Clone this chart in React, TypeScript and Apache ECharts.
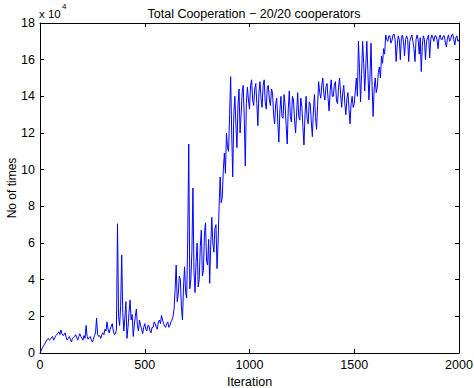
import React, { useEffect, useRef } from 'react';
import * as echarts from 'echarts';

const titleText = 'Total Cooperation \u2212 20/20 cooperators';
const xAxisName = 'Iteration';
const yAxisName = 'No of times';
const xTicks = [0, 500, 1000, 1500, 2000];
const yTicks = [0, 2, 4, 6, 8, 10, 12, 14, 16, 18];

// one reading every 5 iterations (0, 5, 10, ... 2000)
const iterationStep = 5;

// values in units of 10^4
const cooperation = [
  0, 0.12, 0.25, 0.35, 0.45, 0.55, 0.65, 0.75, 0.8, 0.7, 0.75, 0.85, 0.9, 0.7, 0.8, 0.95, 1.0, 1.1, 1.15, 1.0,
  1.25, 1.05, 0.95, 1.0, 1.1, 0.85, 0.7, 0.8, 0.9, 0.75, 0.6, 0.8, 0.85, 0.9, 1.0, 0.85, 0.7, 0.9, 1.05, 0.9,
  0.8, 0.7, 0.95, 0.8, 1.5, 0.9, 0.75, 0.85, 0.9, 0.7, 0.6, 0.75, 0.95, 1.1, 1.9, 1.0, 0.9, 0.95, 0.8, 1.0,
  1.1, 1.0, 1.3, 1.2, 1.7, 1.3, 1.1, 1.3, 1.45, 1.6, 1.2, 1.0, 1.05, 1.3, 7.05, 2.0, 1.5, 2.6, 5.35, 2.2,
  1.2, 1.9, 2.8, 0.8, 1.4, 2.2, 2.9, 1.8, 2.1, 0.9, 1.5, 2.0, 2.4, 1.5, 1.2, 1.8, 1.5, 1.3, 1.05, 1.4,
  1.6, 1.3, 1.2, 1.5, 1.5, 1.2, 1.1, 1.4, 1.4, 1.7, 1.6, 1.4, 1.3, 1.7, 1.8, 1.6, 2.05, 1.8, 1.6, 1.45,
  1.4, 1.6, 1.7, 1.4, 1.5, 1.7, 1.8, 2.0, 2.4, 3.5, 4.8, 2.8, 3.2, 4.2, 4.0, 2.5, 1.8, 3.6, 4.7, 3.3,
  3.0, 6.0, 11.4, 3.5, 4.0, 5.5, 9.0, 4.5, 3.3, 5.0, 6.0, 3.6, 4.0, 5.8, 6.7, 4.2, 4.5, 6.5, 7.1, 5.0,
  4.8, 6.2, 3.8, 5.9, 7.4, 6.0, 5.5, 6.8, 7.0, 4.6, 6.0, 8.0, 9.6, 8.2, 8.5, 10.0, 10.9, 9.8, 12.0, 11.2,
  11.0, 13.0, 15.07, 12.0, 9.6, 13.0, 14.0, 12.5, 11.2, 13.5, 14.4, 12.0, 13.0, 14.2, 14.6, 12.8, 10.2, 13.6, 14.5, 13.8,
  13.3, 14.6, 14.9, 13.8, 13.5, 14.4, 14.7, 13.6, 12.4, 14.2, 14.8, 13.9, 13.4, 14.6, 14.9, 13.7, 13.3, 14.5, 14.6, 13.8,
  13.5, 14.4, 14.2, 13.0, 12.5, 13.6, 13.9, 12.6, 11.5, 13.2, 14.0, 12.9, 12.8, 14.1, 13.5, 12.4, 11.4, 13.3, 14.3, 12.9,
  12.6, 14.0, 13.8, 12.7, 12.0, 13.1, 14.2, 12.9, 12.7, 13.9, 13.4, 12.3, 11.35, 13.0, 14.0, 12.8, 12.5, 13.7, 13.6, 12.6,
  11.8, 13.2, 14.1, 12.9, 12.2, 13.5, 14.8, 14.2, 13.9, 14.6, 15.0, 14.1, 13.8, 14.5, 14.7, 13.9, 13.2, 14.3, 14.9, 14.0,
  14.0, 14.6, 14.8, 13.8, 13.6, 14.5, 15.0, 14.1, 13.4, 14.2, 14.6, 13.6, 13.0, 13.9, 14.2, 13.3, 12.5, 13.6, 14.0, 13.4,
  13.6, 14.3, 15.0, 14.0, 17.0, 15.5, 13.7, 15.2, 17.0, 15.8, 14.3, 15.6, 17.0, 15.4, 13.8, 15.0, 16.9, 14.6, 12.9, 14.4,
  15.0, 14.2, 14.5, 15.3, 15.6, 15.0, 16.2, 15.8, 16.6, 16.3, 17.35, 17.1, 17.0, 17.3, 17.3, 16.9, 17.05, 17.35, 17.4, 17.1,
  15.9, 16.8, 17.3, 17.1, 16.0, 17.2, 17.35, 17.0, 16.2, 17.1, 17.3, 17.1, 15.9, 17.0, 17.2, 17.35, 17.0, 16.6, 15.9, 17.1,
  17.35, 17.1, 16.3, 17.2, 15.35, 16.8, 17.3, 17.1, 16.0, 17.0, 17.2, 17.35, 16.1, 17.1, 17.35, 17.2, 17.0, 17.3, 17.3, 17.1,
  16.6, 17.2, 17.35, 17.1, 17.1, 17.3, 17.3, 16.9, 16.7, 17.2, 17.35, 17.0, 17.1, 17.35, 17.4, 17.1, 16.8, 17.2, 17.3, 17.0,
  17.1,
];

const FONT = 'Liberation Sans, Arial, sans-serif';

export default function App() {
  const ref = useRef<HTMLDivElement>(null);
  useEffect(() => {
    document.body.style.margin = '0';
    if (!ref.current) return;
    const chart = echarts.init(ref.current, undefined, { renderer: 'svg' });
    const data = cooperation.map((v, i) => [i * iterationStep, v]);
    const axisLineStyle = { color: '#000', width: 1 };
    const xBase = {
      type: 'value' as const,
      min: xTicks[0],
      max: xTicks[xTicks.length - 1],
      interval: 500,
      splitLine: { show: false },
      axisLine: { show: true, onZero: false, lineStyle: axisLineStyle },
      axisTick: { show: true, inside: true, length: 4, lineStyle: axisLineStyle },
    };
    const yBase = {
      type: 'value' as const,
      min: yTicks[0],
      max: yTicks[yTicks.length - 1],
      interval: 2,
      splitLine: { show: false },
      axisLine: { show: true, onZero: false, lineStyle: axisLineStyle },
      axisTick: { show: true, inside: true, length: 4, lineStyle: axisLineStyle },
    };
    chart.setOption({
      animation: false,
      backgroundColor: '#fff',
      title: {
        text: titleText,
        left: 249,
        top: 2,
        textAlign: 'center',
        textStyle: { fontFamily: FONT, fontSize: 12.5, fontWeight: 'normal', color: '#000' },
      },
      grid: {
        left: 40,
        right: 15,
        top: 23,
        bottom: 35,
        containLabel: false,
        outerBoundsMode: 'none',
      },
      xAxis: [
        {
          ...xBase,
          position: 'bottom',
          name: xAxisName,
          nameLocation: 'middle',
          nameGap: 18,
          nameTextStyle: { fontFamily: FONT, fontSize: 12.5, color: '#000' },
          axisLabel: {
            show: true,
            margin: 5,
            fontFamily: FONT,
            fontSize: 12.5,
            color: '#000',
            formatter: (v: number) => String(v),
          },
        },
        {
          ...xBase,
          position: 'top',
          axisLabel: { show: false },
        },
      ],
      yAxis: [
        {
          ...yBase,
          position: 'left',
          axisLabel: {
            show: true,
            margin: 5,
            fontFamily: FONT,
            fontSize: 12.5,
            color: '#000',
            formatter: (v: number) => String(v),
          },
        },
        {
          ...yBase,
          position: 'right',
          axisLabel: { show: false },
        },
      ],
      graphic: [
        {
          type: 'text',
          x: 12,
          y: 188,
          rotation: Math.PI / 2,
          style: {
            text: yAxisName,
            fontFamily: FONT,
            fontSize: 12,
            fill: '#000',
            align: 'center',
            verticalAlign: 'middle',
          },
        },
        {
          type: 'text',
          left: 39,
          top: 8,
          style: { text: 'x 10', fontFamily: FONT, fontSize: 11.5, fill: '#000' },
        },
        {
          type: 'text',
          left: 62,
          top: 2,
          style: { text: '4', fontFamily: FONT, fontSize: 8, fill: '#000' },
        },
      ],
      series: [
        {
          type: 'line',
          data,
          showSymbol: false,
          symbol: 'none',
          lineStyle: { color: '#0000ff', width: 1 },
          xAxisIndex: 0,
          yAxisIndex: 0,
        },
      ],
    });
    return () => chart.dispose();
  }, []);
  return (
    <div
      ref={ref}
      style={{ position: 'absolute', left: 0, top: 0, width: 474, height: 388, background: '#fff' }}
    />
  );
}
